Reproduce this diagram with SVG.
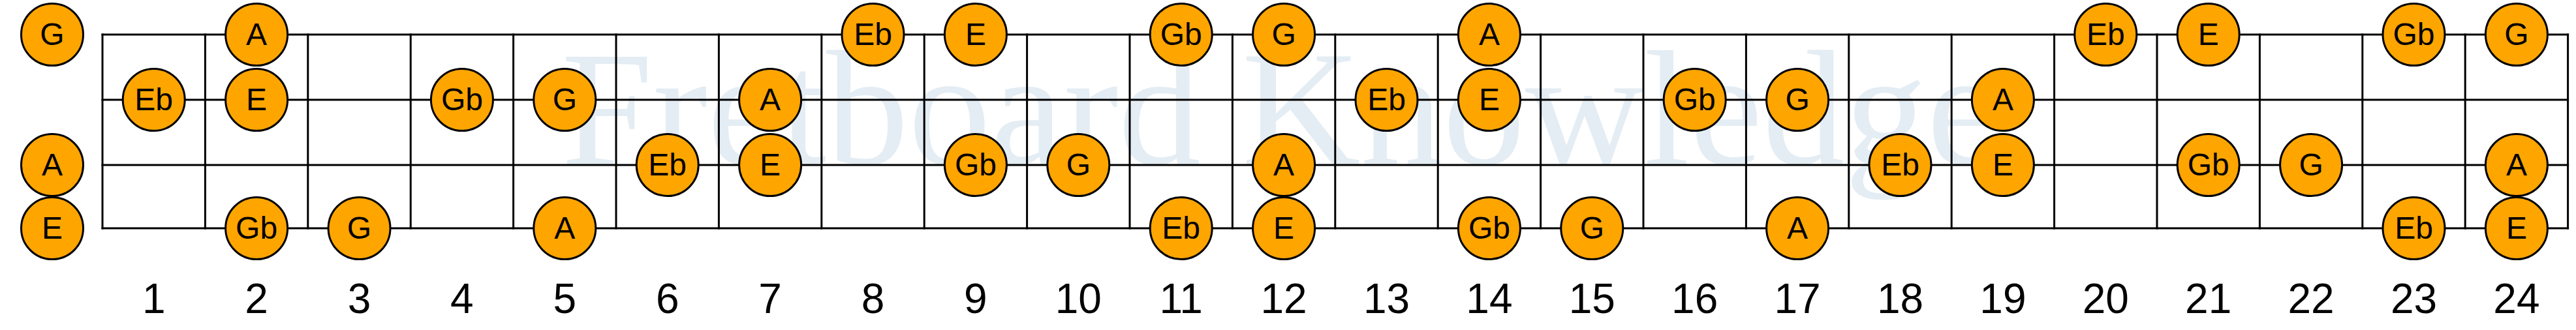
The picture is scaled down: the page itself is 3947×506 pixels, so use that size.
<svg xmlns="http://www.w3.org/2000/svg" width="3947" height="506" viewBox="0 0 3947 506">
<defs>
<style>
.wm{font-family:"Liberation Serif","Times New Roman",serif;font-size:252px;fill:#e4edf4}
.ln{stroke:#000;stroke-width:3;fill:none;stroke-linecap:square}
.nt circle{fill:#ffa500;stroke:#000;stroke-width:3}
.nt text{font-family:"Liberation Sans",Arial,sans-serif;font-size:48px;fill:#000;text-anchor:middle}
.fn{font-family:"Liberation Sans",Arial,sans-serif;font-size:64px;fill:#000;text-anchor:middle}
</style>
</defs>
<rect width="3947" height="506" fill="#fff"/>
<text class="wm" x="860" y="252">Fretboard Knowledge</text>
<g id="connectors" class="ln">
<line x1="157" y1="53" x2="3934.6" y2="53"/>
<line x1="157" y1="153" x2="3934.6" y2="153"/>
<line x1="157" y1="253" x2="3934.6" y2="253"/>
<line x1="157" y1="350" x2="3934.6" y2="350"/>
<line x1="157" y1="53" x2="157" y2="350"/>
<line x1="314.4" y1="53" x2="314.4" y2="350"/>
<line x1="471.8" y1="53" x2="471.8" y2="350"/>
<line x1="629.2" y1="53" x2="629.2" y2="350"/>
<line x1="786.6" y1="53" x2="786.6" y2="350"/>
<line x1="944" y1="53" x2="944" y2="350"/>
<line x1="1101.4" y1="53" x2="1101.4" y2="350"/>
<line x1="1258.8" y1="53" x2="1258.8" y2="350"/>
<line x1="1416.2" y1="53" x2="1416.2" y2="350"/>
<line x1="1573.6" y1="53" x2="1573.6" y2="350"/>
<line x1="1731" y1="53" x2="1731" y2="350"/>
<line x1="1888.4" y1="53" x2="1888.4" y2="350"/>
<line x1="2045.8" y1="53" x2="2045.8" y2="350"/>
<line x1="2203.2" y1="53" x2="2203.2" y2="350"/>
<line x1="2360.6" y1="53" x2="2360.6" y2="350"/>
<line x1="2518" y1="53" x2="2518" y2="350"/>
<line x1="2675.4" y1="53" x2="2675.4" y2="350"/>
<line x1="2832.8" y1="53" x2="2832.8" y2="350"/>
<line x1="2990.2" y1="53" x2="2990.2" y2="350"/>
<line x1="3147.6" y1="53" x2="3147.6" y2="350"/>
<line x1="3305" y1="53" x2="3305" y2="350"/>
<line x1="3462.4" y1="53" x2="3462.4" y2="350"/>
<line x1="3619.8" y1="53" x2="3619.8" y2="350"/>
<line x1="3777.2" y1="53" x2="3777.2" y2="350"/>
<line x1="3934.6" y1="53" x2="3934.6" y2="350"/>
</g>
<g id="fret-numbers" class="fn">
<text x="235.7" y="480">1</text>
<text x="393.1" y="480">2</text>
<text x="550.5" y="480">3</text>
<text x="707.9" y="480">4</text>
<text x="865.3" y="480">5</text>
<text x="1022.7" y="480">6</text>
<text x="1180.1" y="480">7</text>
<text x="1337.5" y="480">8</text>
<text x="1494.9" y="480">9</text>
<text x="1652.3" y="480">10</text>
<text x="1809.7" y="480">11</text>
<text x="1967.1" y="480">12</text>
<text x="2124.5" y="480">13</text>
<text x="2281.9" y="480">14</text>
<text x="2439.3" y="480">15</text>
<text x="2596.7" y="480">16</text>
<text x="2754.1" y="480">17</text>
<text x="2911.5" y="480">18</text>
<text x="3068.9" y="480">19</text>
<text x="3226.3" y="480">20</text>
<text x="3383.7" y="480">21</text>
<text x="3541.1" y="480">22</text>
<text x="3698.5" y="480">23</text>
<text x="3855.9" y="480">24</text>
</g>
<!-- G string -->
<g id="g-0" class="nt" transform="translate(80,53)"><circle r="47.5"/><text y="16">G</text></g>
<g id="g-2" class="nt" transform="translate(393.1,53)"><circle r="47.5"/><text y="16">A</text></g>
<g id="g-8" class="nt" transform="translate(1337.5,53)"><circle r="47.5"/><text y="16">Eb</text></g>
<g id="g-9" class="nt" transform="translate(1494.9,53)"><circle r="47.5"/><text y="16">E</text></g>
<g id="g-11" class="nt" transform="translate(1809.7,53)"><circle r="47.5"/><text y="16">Gb</text></g>
<g id="g-12" class="nt" transform="translate(1967.1,53)"><circle r="47.5"/><text y="16">G</text></g>
<g id="g-14" class="nt" transform="translate(2281.9,53)"><circle r="47.5"/><text y="16">A</text></g>
<g id="g-20" class="nt" transform="translate(3226.3,53)"><circle r="47.5"/><text y="16">Eb</text></g>
<g id="g-21" class="nt" transform="translate(3383.7,53)"><circle r="47.5"/><text y="16">E</text></g>
<g id="g-23" class="nt" transform="translate(3698.5,53)"><circle r="47.5"/><text y="16">Gb</text></g>
<g id="g-24" class="nt" transform="translate(3855.9,53)"><circle r="47.5"/><text y="16">G</text></g>
<!-- D string -->
<g id="d-1" class="nt" transform="translate(235.7,153)"><circle r="47.5"/><text y="16">Eb</text></g>
<g id="d-2" class="nt" transform="translate(393.1,153)"><circle r="47.5"/><text y="16">E</text></g>
<g id="d-4" class="nt" transform="translate(707.9,153)"><circle r="47.5"/><text y="16">Gb</text></g>
<g id="d-5" class="nt" transform="translate(865.3,153)"><circle r="47.5"/><text y="16">G</text></g>
<g id="d-7" class="nt" transform="translate(1180.1,153)"><circle r="47.5"/><text y="16">A</text></g>
<g id="d-13" class="nt" transform="translate(2124.5,153)"><circle r="47.5"/><text y="16">Eb</text></g>
<g id="d-14" class="nt" transform="translate(2281.9,153)"><circle r="47.5"/><text y="16">E</text></g>
<g id="d-16" class="nt" transform="translate(2596.7,153)"><circle r="47.5"/><text y="16">Gb</text></g>
<g id="d-17" class="nt" transform="translate(2754.1,153)"><circle r="47.5"/><text y="16">G</text></g>
<g id="d-19" class="nt" transform="translate(3068.9,153)"><circle r="47.5"/><text y="16">A</text></g>
<!-- A string -->
<g id="a-0" class="nt" transform="translate(80,253)"><circle r="47.5"/><text y="16">A</text></g>
<g id="a-6" class="nt" transform="translate(1022.7,253)"><circle r="47.5"/><text y="16">Eb</text></g>
<g id="a-7" class="nt" transform="translate(1180.1,253)"><circle r="47.5"/><text y="16">E</text></g>
<g id="a-9" class="nt" transform="translate(1494.9,253)"><circle r="47.5"/><text y="16">Gb</text></g>
<g id="a-10" class="nt" transform="translate(1652.3,253)"><circle r="47.5"/><text y="16">G</text></g>
<g id="a-12" class="nt" transform="translate(1967.1,253)"><circle r="47.5"/><text y="16">A</text></g>
<g id="a-18" class="nt" transform="translate(2911.5,253)"><circle r="47.5"/><text y="16">Eb</text></g>
<g id="a-19" class="nt" transform="translate(3068.9,253)"><circle r="47.5"/><text y="16">E</text></g>
<g id="a-21" class="nt" transform="translate(3383.7,253)"><circle r="47.5"/><text y="16">Gb</text></g>
<g id="a-22" class="nt" transform="translate(3541.1,253)"><circle r="47.5"/><text y="16">G</text></g>
<g id="a-24" class="nt" transform="translate(3855.9,253)"><circle r="47.5"/><text y="16">A</text></g>
<!-- E string -->
<g id="e-0" class="nt" transform="translate(80,350)"><circle r="47.5"/><text y="16">E</text></g>
<g id="e-2" class="nt" transform="translate(393.1,350)"><circle r="47.5"/><text y="16">Gb</text></g>
<g id="e-3" class="nt" transform="translate(550.5,350)"><circle r="47.5"/><text y="16">G</text></g>
<g id="e-5" class="nt" transform="translate(865.3,350)"><circle r="47.5"/><text y="16">A</text></g>
<g id="e-11" class="nt" transform="translate(1809.7,350)"><circle r="47.5"/><text y="16">Eb</text></g>
<g id="e-12" class="nt" transform="translate(1967.1,350)"><circle r="47.5"/><text y="16">E</text></g>
<g id="e-14" class="nt" transform="translate(2281.9,350)"><circle r="47.5"/><text y="16">Gb</text></g>
<g id="e-15" class="nt" transform="translate(2439.3,350)"><circle r="47.5"/><text y="16">G</text></g>
<g id="e-17" class="nt" transform="translate(2754.1,350)"><circle r="47.5"/><text y="16">A</text></g>
<g id="e-23" class="nt" transform="translate(3698.5,350)"><circle r="47.5"/><text y="16">Eb</text></g>
<g id="e-24" class="nt" transform="translate(3855.9,350)"><circle r="47.5"/><text y="16">E</text></g>
</svg>
